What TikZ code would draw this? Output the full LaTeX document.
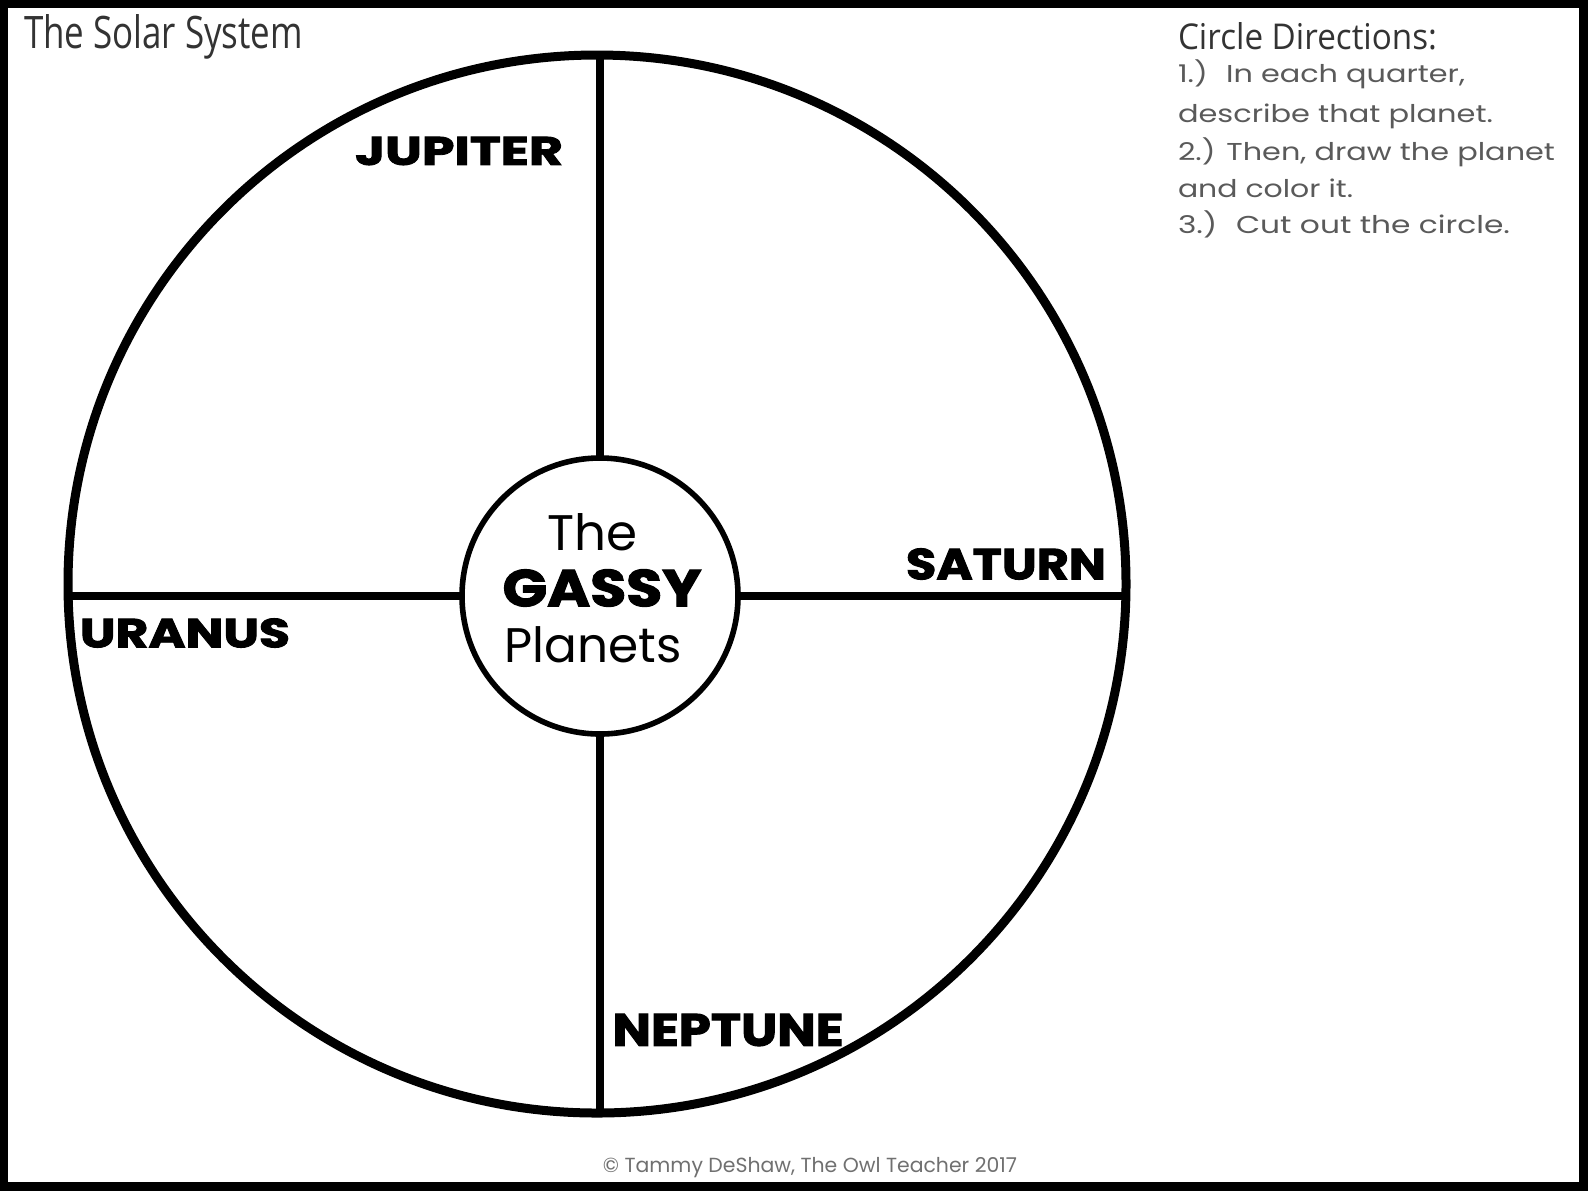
\documentclass[tikz,border=0pt]{standalone}
\usepackage{fontspec}
\usepackage{graphicx}
\setmainfont{Poppins}
\newfontfamily\heavy{Poppins}[BoldFeatures={FakeBold=2}]
\newfontfamily\hand{Open Sans}
\newlength\pxu \setlength\pxu{0.5pt}
\newcommand\fitwh[3]{\resizebox{#1\pxu}{#2\pxu}{#3}}
\newcommand\fitw[2]{\resizebox{#1\pxu}{!}{#2}}
\newcommand\fitx[2]{\resizebox{#1\pxu}{\height}{#2}}
\definecolor{handink}{HTML}{333333}
\definecolor{dirink}{HTML}{5A5A5A}
\definecolor{copyink}{HTML}{707070}
\tikzset{
  lbl/.style={inner sep=0pt, outer sep=0pt},
  planet/.style={lbl, font=\heavy\bfseries},
  ring/.style={circle, draw=black, inner sep=0pt, outer sep=0pt},
  cross/.style={draw=black, line width=3.75pt},
  dirline/.style={lbl, anchor=base west, text=dirink, font=\fontsize{12.2pt}{14pt}\selectfont},
}
\begin{document}
\begin{tikzpicture}[x=0.5pt,y=-0.5pt]
\fill[black] (0,0) rectangle (1588,1191);
\fill[white] (8,8) rectangle (1579,1182);
\useasboundingbox (0,0) rectangle (1588,1191);

\node[ring, line width=4.5pt, minimum size=1058\pxu] (outer) at (597,584) {};
\node[ring, line width=2.8pt, minimum size=276\pxu, fill=white] (inner) at (600,596) {};

\draw[cross] (outer.north -| inner.north) -- (inner.north);
\draw[cross] (outer.south -| inner.south) -- (inner.south);
\draw[cross] (outer.west |- inner.west) -- (inner.west);
\draw[cross] (outer.east |- inner.east) -- (inner.east);

\node[planet] (jupiter) at (459,151) {\fitwh{208}{28}{JUPITER}};
\node[planet] (saturn) at (1006,564) {\fitwh{200}{31}{SATURN}};
\node[planet] (uranus) at (185,633) {\fitwh{210}{29}{URANUS}};
\node[planet] (neptune) at (728,1030) {\fitwh{231}{32}{NEPTUNE}};

\node[lbl, anchor=base] (the) at (592,550) {\fitw{90}{The}};
\node[planet] (gassy) at (602,588) {\fitwh{199}{37}{GASSY}};
\node[lbl, anchor=base] (planets) at (593,662) {\fitw{177}{Planets}};

\node[lbl, anchor=base west, text=handink, font=\hand] (title) at (24,48) {\fitwh{279}{34}{The Solar System}};
\node[lbl, anchor=base west, text=handink, font=\hand] (dirhead) at (1178,49) {\fitwh{259}{27}{Circle Directions:}};

\node[dirline] (d1) at (1178,82) {\fitx{287}{1.)\hspace{0.6em}In each quarter,}};
\node[dirline] (d2) at (1178,122) {\fitx{315}{describe that planet.}};
\node[dirline] (d3) at (1178,160) {\fitx{377}{2.) Then, draw the planet}};
\node[dirline] (d4) at (1178,197) {\fitx{175}{and color it.}};
\node[dirline] (d5) at (1178,233) {\fitx{332}{3.)\hspace{0.6em}Cut out the circle.}};

\node[lbl, text=copyink] (copy) at (810,1168) {\fitw{414}{© Tammy DeShaw, The Owl Teacher 2017}};
\end{tikzpicture}
\end{document}
